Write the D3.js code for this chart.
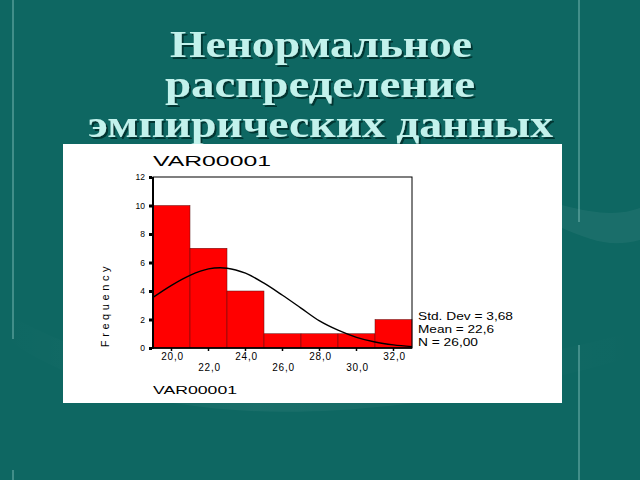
<!DOCTYPE html>
<html><head><meta charset="utf-8">
<script src="https://cdn.jsdelivr.net/npm/d3@7"></script>
<style>html,body{margin:0;padding:0;background:#0e6762;}svg{display:block;}</style>
</head><body>
<script>
// Data
const titleLines = ["Ненормальное", "распределение", "эмпирических данных"];
const binCenters = [20, 22, 24, 26, 28, 30, 32];
const frequencies = [10, 7, 4, 1, 1, 1, 2];
const curveX = [19, 20, 21, 22, 23, 24, 25, 26, 27, 28, 29, 30, 31, 32, 33];
const curveY = [3.55, 4.4, 5.1, 5.55, 5.6, 5.25, 4.55, 3.7, 2.8, 1.9, 1.25, 0.75, 0.42, 0.22, 0.1];
const yTicks = [0, 2, 4, 6, 8, 10, 12];
const xTicksRow1 = ["20,0", "24,0", "28,0", "32,0"];
const xTicksRow2 = ["22,0", "26,0", "30,0"];
const statsLines = ["Std. Dev = 3,68", "Mean = 22,6", "N = 26,00"];
const varName = "VAR00001";
const yLabel = "Frequency";

const W = 640, H = 480;
const svg = d3.select("body").append("svg").attr("width", W).attr("height", H);
const defs = svg.append("defs");
const f = defs.append("filter").attr("id","shadow").attr("x","-10%").attr("y","-20%").attr("width","120%").attr("height","150%");
f.append("feDropShadow").attr("dx",2).attr("dy",2).attr("stdDeviation",0.6).attr("flood-color","#03302d").attr("flood-opacity",0.95);

// background
svg.append("rect").attr("width", W).attr("height", H).attr("fill", "#0e6762");
const g1 = defs.append("linearGradient").attr("id","swoosh").attr("x1","0").attr("x2","1");
g1.append("stop").attr("offset","0").attr("stop-color","#ffffff").attr("stop-opacity",0.0);
g1.append("stop").attr("offset","0.4").attr("stop-color","#ffffff").attr("stop-opacity",0.05);
g1.append("stop").attr("offset","1").attr("stop-color","#ffffff").attr("stop-opacity",0.0);
svg.append("path").attr("d","M0,310 C120,380 300,420 640,330 L640,355 C320,445 120,420 0,335 Z").attr("fill","url(#swoosh)");
svg.append("path").attr("d","M562,205 C600,215 620,215 640,208 L640,240 C610,248 590,240 562,228 Z").attr("fill","#ffffff").attr("opacity",0.05);

// decorative vertical lines
const dec = [[13,0,13,339],[13,470,13,480],[579,0,579,222],[579,345,579,480]];
svg.selectAll("line.dec").data(dec).enter().append("line")
  .attr("x1",d=>d[0]).attr("y1",d=>d[1]).attr("x2",d=>d[2]).attr("y2",d=>d[3])
  .attr("stroke","#8fc9c4").attr("stroke-width",1).attr("opacity",0.8);

// title
const titleGeom = [{y:57, x0:170, w:302},{y:97, x0:165, w:310},{y:137, x0:88, w:465}];
const tg = svg.append("g").attr("filter","url(#shadow)");
titleLines.forEach((t,i)=>{
  const g = titleGeom[i];
  tg.append("text").attr("x",g.x0).attr("y",g.y).text(t)
    .attr("font-family","'Liberation Serif','DejaVu Serif',serif").attr("font-weight","bold")
    .attr("font-size",38).attr("fill","#c2f2ec")
    .attr("textLength",g.w).attr("lengthAdjust","spacingAndGlyphs");
});

// white panel
svg.append("rect").attr("x",63).attr("y",144).attr("width",499).attr("height",259).attr("fill","#ffffff");

// scales
const x = d3.scaleLinear().domain([19,33]).range([153,412]);
const y = d3.scaleLinear().domain([0,12]).range([348,177]);

// bars
svg.append("g").selectAll("rect").data(binCenters).enter().append("rect")
  .attr("x",(d)=>x(d-1)).attr("width",(d)=>x(d+1)-x(d-1))
  .attr("y",(d,i)=>y(frequencies[i])).attr("height",(d,i)=>y(0)-y(frequencies[i]))
  .attr("fill","#ff0000").attr("stroke","#5a1010").attr("stroke-width",0.5);

// frame
svg.append("rect").attr("x",x(19)).attr("y",y(12)).attr("width",x(33)-x(19)).attr("height",y(0)-y(12))
  .attr("fill","none").attr("stroke","#000").attr("stroke-width",1);
svg.append("line").attr("x1",x(19)).attr("x2",x(19)).attr("y1",y(12)).attr("y2",y(0)+1).attr("stroke","#000").attr("stroke-width",2);
svg.append("line").attr("x1",x(19)).attr("x2",x(33)).attr("y1",y(0)).attr("y2",y(0)).attr("stroke","#000").attr("stroke-width",1.5);

// normal curve
const line = d3.line().x((d,i)=>x(curveX[i])).y(d=>y(d)).curve(d3.curveCatmullRom);
svg.append("path").datum(curveY).attr("d",line).attr("fill","none").attr("stroke","#000").attr("stroke-width",1.4);

// y axis
const yAxis = d3.axisLeft(y).tickValues(yTicks).tickSize(0).tickPadding(8).tickFormat(d3.format("d"));
const ya = svg.append("g").attr("transform",`translate(${x(19)},0)`).call(yAxis);
ya.select(".domain").remove();
ya.selectAll("text").attr("font-family","'Liberation Sans',Arial,sans-serif").attr("font-size",8.5).attr("fill","#000");
ya.selectAll(".tick").append("rect").attr("x",-4).attr("y",-1.5).attr("width",3).attr("height",3).attr("fill","#000");

// x tick marks
svg.append("g").selectAll("line").data(binCenters).enter().append("line")
  .attr("x1",d=>x(d)).attr("x2",d=>x(d)).attr("y1",y(0)).attr("y2",y(0)+3).attr("stroke","#000").attr("stroke-width",1.5);

// x tick labels
const xl = svg.append("g").attr("font-family","'Liberation Sans',Arial,sans-serif").attr("font-size",10).attr("fill","#000");
xTicksRow1.forEach(t=>{
  const v = parseFloat(t.replace(",","."));
  xl.append("text").attr("x",x(v)+1).attr("y",360).attr("text-anchor","middle").attr("letter-spacing",0.8).text(t);
});
xTicksRow2.forEach(t=>{
  const v = parseFloat(t.replace(",","."));
  xl.append("text").attr("x",x(v)+1).attr("y",371).attr("text-anchor","middle").attr("letter-spacing",0.8).text(t);
});

// titles
svg.append("text").attr("x",153).attr("y",166).text(varName)
  .attr("font-family","'Liberation Sans',Arial,sans-serif").attr("font-size",15).attr("fill","#000")
  .attr("textLength",118).attr("lengthAdjust","spacingAndGlyphs");
svg.append("text").attr("x",153).attr("y",394).text(varName)
  .attr("font-family","'Liberation Sans',Arial,sans-serif").attr("font-size",11).attr("fill","#000")
  .attr("textLength",84).attr("lengthAdjust","spacingAndGlyphs");
svg.append("text").attr("transform","translate(109,305) rotate(-90)").attr("text-anchor","middle")
  .attr("font-family","'Liberation Sans',Arial,sans-serif").attr("font-size",11).attr("letter-spacing",3.6).attr("fill","#000").text(yLabel);

// stats
const statsW = [95, 76, 60];
statsLines.forEach((t,i)=>{
  svg.append("text").attr("x",418).attr("y",320+i*13).text(t)
    .attr("font-family","'Liberation Sans',Arial,sans-serif").attr("font-size",10.5).attr("fill","#000")
    .attr("textLength",statsW[i]).attr("lengthAdjust","spacingAndGlyphs");
});
</script>
</body></html>
